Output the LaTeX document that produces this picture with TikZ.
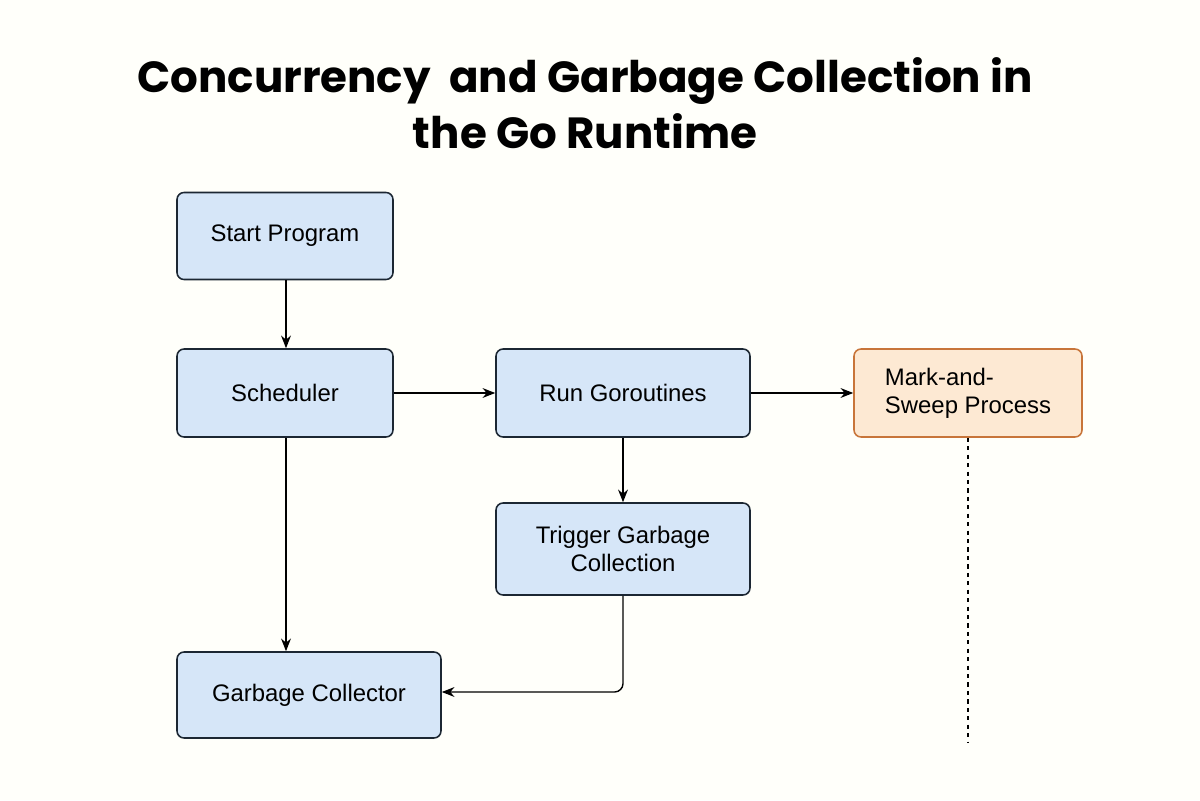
\documentclass[tikz,border=0pt]{standalone}
\usepackage{fontspec}
\setmainfont{Liberation Sans}
\newfontfamily\titlefont{Poppins}
\usetikzlibrary{arrows.meta}
\definecolor{boxblue}{HTML}{D6E6F8}
\definecolor{boxline}{HTML}{1C2733}
\definecolor{orfill}{HTML}{FDE9D3}
\definecolor{orline}{HTML}{C8753A}
\begin{document}
\begin{tikzpicture}[x=0.025cm,y=-0.025cm,
  box/.style={draw=boxline,fill=boxblue,line width=1.1pt,rounded corners=5pt,align=center,font=\fontsize{17}{20}\selectfont,inner sep=0pt},
  obox/.style={box,draw=orline,fill=orfill},
  arr/.style={-{Stealth[length=9pt,width=7pt]},line width=1pt,black}]
\fill[white!98!yellow] (0,0) rectangle (1200,800);
\useasboundingbox (0,0) rectangle (1200,800);
\node[font=\titlefont\bfseries\fontsize{31}{40}\selectfont,align=center] (title) at (585,103) {Concurrency\ \ and Garbage Collection in\\the Go Runtime};
\node[box,minimum width=216*0.025cm,minimum height=87*0.025cm] (start) at (285,236) {Start Program};
\node[box,minimum width=216*0.025cm,minimum height=88*0.025cm] (sched) at (285,393) {Scheduler};
\node[box,minimum width=254*0.025cm,minimum height=88*0.025cm] (run) at (623,393) {Run Goroutines};
\node[obox,minimum width=228*0.025cm,minimum height=88*0.025cm,align=left] (mark) at (968,393) {Mark-and-\\Sweep Process};
\node[box,minimum width=254*0.025cm,minimum height=92*0.025cm] (trig) at (623,549) {Trigger Garbage\\Collection};
\node[box,minimum width=264*0.025cm,minimum height=86*0.025cm] (gc) at (309,695) {Garbage Collector};
\coordinate (dend) at (968,742);
\draw[arr] (start.south -| 286,0) -- (sched.north -| 286,0);
\draw[arr] (sched) -- (run);
\draw[arr] (run) -- (mark);
\draw[arr] (run) -- (trig);
\draw[arr] (sched.south -| 286,0) -- (gc.north -| 286,0);
\draw[arr,rounded corners=6pt] (trig.south) -- (623,692) -- (gc.east |- 0,692);
\draw[line width=1pt,dashed] (mark.south) -- (dend);
\end{tikzpicture}
\end{document}
